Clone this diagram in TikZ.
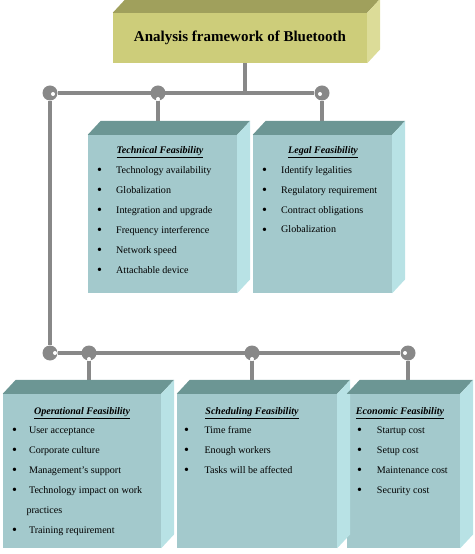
\documentclass[tikz,border=0pt]{standalone}
\usepackage{fontspec}
\setmainfont{Liberation Serif}
\usetikzlibrary{calc}
\definecolor{box_front}{RGB}{163, 201, 204}
\definecolor{box_top}{RGB}{108, 150, 148}
\definecolor{box_side}{RGB}{184, 226, 229}
\definecolor{title_front}{RGB}{205, 205, 122}
\definecolor{title_top}{RGB}{160, 160, 92}
\definecolor{title_side}{RGB}{220, 220, 152}
\definecolor{pipe_grey}{RGB}{136, 136, 136}
\pgfdeclarelayer{bg}
\pgfsetlayers{bg,main}
\tikzstyle{head}=[rectangle,fill=title_front,inner sep=0pt,
  font=\fontsize{12.8}{15}\selectfont\bfseries]
\tikzstyle{panel}=[rectangle,fill=box_front,inner sep=0pt]
\tikzstyle{joint}=[circle,fill=pipe_grey,inner sep=0pt,minimum size=4.5mm]
\tikzstyle{pipe}=[draw=pipe_grey,line width=3.4pt]
\tikzstyle{caption}=[inner sep=0pt,font=\fontsize{8.6}{10}\selectfont\bfseries\itshape]
% anchored at the baseline of the last line
\tikzstyle{list}=[anchor=base west,align=left,inner sep=0pt,
  font=\fontsize{8.6}{17.07}\selectfont]
\tikzstyle{none}=[]
% bullet with the gap before the item text
\newcommand{\bl}[1][12pt]{\raisebox{-1pt}{\fontsize{12}{0}\selectfont\textbullet}\hspace{#1}}
% top and right faces of a panel
\newcommand{\slab}[3]{%
  \fill [#2] (#1.north west) -- ++(13, -14) -- ($(#1.north east)+(13, -14)$)
    -- (#1.north east) -- cycle;
  \fill [#3] (#1.north east) -- ++(13, -14) -- ($(#1.south east)+(13, -14)$)
    -- (#1.south east) -- cycle;}

\begin{document}
\begin{tikzpicture}[x=0.3mm,y=-0.3mm]
            \useasboundingbox (0, 0) rectangle (474, 554);
            \node [style=head, minimum width=76.2mm, minimum height=15mm] (0) at (240, 38) {Analysis framework of Bluetooth};
            \node [style=panel, minimum width=44.7mm, minimum height=47.4mm] (1) at (162.5, 214) {};
            \node [style=panel, minimum width=41.7mm, minimum height=47.4mm] (2) at (322.5, 214) {};
            \node [style=panel, minimum width=47.4mm, minimum height=46.2mm] (3) at (82, 471) {};
            \node [style=panel, minimum width=48mm, minimum height=46.2mm] (4) at (257, 471) {};
            \node [style=panel, minimum width=33.9mm, minimum height=46.2mm] (5) at (403.5, 471) {};
            \slab{0}{title_top}{title_side}
            \slab{1}{box_top}{box_side}
            \slab{2}{box_top}{box_side}
            \slab{3}{box_top}{box_side}
            \slab{4}{box_top}{box_side}
            \slab{5}{box_top}{box_side}
            \node [style=joint] (6) at (50, 93) {};
            \node [style=joint] (7) at (158, 93) {};
            \node [style=joint] (8) at (322, 93) {};
            \node [style=joint] (9) at (50, 353) {};
            \node [style=joint] (10) at (89, 353) {};
            \node [style=joint] (11) at (252, 353) {};
            \node [style=joint] (12) at (408, 353) {};
            \coordinate (13) at (245, 93);
            \fill [white] ($(6)+(3, 1)$) circle (1.7pt);
            \fill [white] ($(7)+(0, 6)$) circle (1.7pt);
            \fill [white] ($(8)+(-2, 1)$) circle (1.7pt);
            \fill [white] ($(9)+(5, 0)$) circle (1.7pt);
            \fill [white] ($(10)+(0, 6)$) circle (1.7pt);
            \fill [white] ($(11)+(0, 6)$) circle (1.7pt);
            \fill [white] ($(12)+(-3, 0)$) circle (1.7pt);
            \begin{pgfonlayer}{bg}
                \draw [style=pipe] (13 |- 0.south) -- (13);
                \draw [style=pipe] (6) -- (8);
                \draw [style=pipe] (7) -- (7 |- 1.north);
                \draw [style=pipe] (8) -- (8 |- 2.north);
                \draw [style=pipe] (6) -- (9) -- (12);
                \draw [style=pipe] (10) -- (10 |- 3.north);
                \draw [style=pipe] (11) -- (11 |- 4.north);
                \draw [style=pipe] (12) -- (12 |- 5.north);
            \end{pgfonlayer}
            \node [style=caption] (14) at (160, 152) {\underline{Technical Feasibility}};
            \node [style=caption] (15) at (323, 152) {\underline{Legal Feasibility}};
            \node [style=caption] (16) at (82, 413) {\underline{Operational Feasibility}};
            \node [style=caption] (17) at (252, 413) {\underline{Scheduling Feasibility}};
            \node [style=caption] (18) at (400, 413) {\underline{Economic Feasibility}};
            \node [style=list] (19) at (97, 273) {\bl Technology availability\\ \bl Globalization\\ \bl Integration and upgrade\\
              \bl Frequency interference\\ \bl Network speed\\ \bl Attachable device};
            \node [style=list] (20) at (262, 233) {\bl Identify legalities\\ \bl Regulatory requirement\\
              \bl Contract obligations\\ \bl Globalization};
            \node [style=list] (21) at (12, 533) {\bl[8pt] User acceptance\\ \bl[8pt] Corporate culture\\ \bl[8pt] Management's support\\
              \bl[8pt] Technology impact on work\\ \hphantom{\bl[8pt]}practices\\ \bl[8pt] Training requirement};
            \node [style=list] (22) at (184, 473) {\bl[11pt] Time frame\\ \bl[11pt] Enough workers\\ \bl[11pt] Tasks will be affected};
            \node [style=list] (23) at (357, 493) {\bl[10.5pt] Startup cost\\ \bl[10.5pt] Setup cost\\
              \bl[10.5pt] Maintenance cost\\ \bl[10.5pt] Security cost};
\end{tikzpicture}
\end{document}
